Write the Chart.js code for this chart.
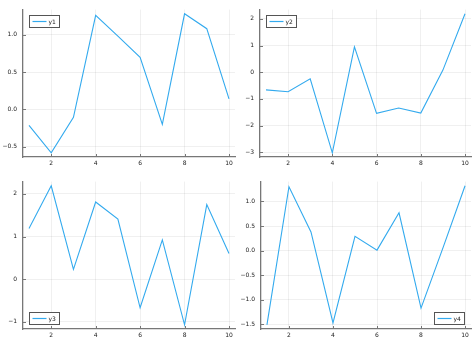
<!DOCTYPE html>
<html>
<head>
<meta charset="utf-8">
<script src="https://cdn.jsdelivr.net/npm/chart.js@4/dist/chart.umd.min.js"></script>
<style>
  html, body { margin: 0; padding: 0; background: #fff; }
  #wrap { position: relative; width: 474px; height: 345px; }
  .cell { position: absolute; }
</style>
</head>
<body>
<div id="wrap">
  <div class="cell" style="left:0;top:0;width:237px;height:172px"><canvas id="c1" width="237" height="172"></canvas></div>
  <div class="cell" style="left:237px;top:0;width:237px;height:172px"><canvas id="c2" width="237" height="172"></canvas></div>
  <div class="cell" style="left:0;top:172px;width:237px;height:173px"><canvas id="c3" width="237" height="173"></canvas></div>
  <div class="cell" style="left:237px;top:172px;width:237px;height:173px"><canvas id="c4" width="237" height="173"></canvas></div>
</div>
<script>
// ---- data ----
const xValues = [1, 2, 3, 4, 5, 6, 7, 8, 9, 10];
const xTicks = [2, 4, 6, 8, 10];
const seriesNames = ['y1', 'y2', 'y3', 'y4'];
const y1 = [-0.215, -0.582, -0.107, 1.259, 0.98, 0.698, -0.20, 1.28, 1.08, 0.14];
const y2 = [-0.66, -0.73, -0.25, -3.02, 0.95, -1.54, -1.34, -1.53, 0.08, 2.19];
const y3 = [1.19, 2.19, 0.23, 1.81, 1.41, -0.67, 0.92, -1.07, 1.75, 0.60];
const y4 = [-1.51, 1.30, 0.38, -1.47, 0.29, 0.01, 0.77, -1.17, 0.06, 1.32];
const yTicks1 = [-0.5, 0, 0.5, 1.0];
const yTicks2 = [-3, -2, -1, 0, 1, 2];
const yTicks3 = [-1, 0, 1, 2];
const yTicks4 = [-1.5, -1.0, -0.5, 0, 0.5, 1.0];

const LINE = '#33aaee';
const AXIS = '#777';
const GRID = 'rgba(0,0,0,0.06)';
const TXT = '#222';
const FONT = 'DejaVu Sans';

function fmt(v, dec) {
  const s = v.toFixed(dec);
  return s.startsWith('-') ? '\u2212' + s.slice(1) : s;
}
function padRange(arr, frac) {
  const mn = Math.min(...arr), mx = Math.max(...arr);
  const p = (mx - mn) * frac;
  return [mn - p, mx + p];
}

const innerTicks = {
  id: 'innerTicks',
  afterDatasetsDraw(chart) {
    const ctx = chart.ctx, a = chart.chartArea;
    const xs = chart.scales.x, ys = chart.scales.y;
    ctx.save();
    ctx.strokeStyle = AXIS; ctx.lineWidth = 1;
    ctx.beginPath();
    xs.ticks.forEach(t => { const px = Math.round(xs.getPixelForValue(t.value)) + 0.5; ctx.moveTo(px, a.bottom); ctx.lineTo(px, a.bottom - 3); });
    ys.ticks.forEach(t => { const py = Math.round(ys.getPixelForValue(t.value)) + 0.5; ctx.moveTo(a.left, py); ctx.lineTo(a.left + 3, py); });
    ctx.stroke();
    ctx.restore();
  }
};

const boxLegend = {
  id: 'boxLegend',
  afterDraw(chart, args, opts) {
    const ctx = chart.ctx, a = chart.chartArea;
    const label = chart.data.datasets[0].label;
    ctx.save();
    ctx.font = '6px "' + FONT + '"';
    const tw = ctx.measureText(label).width;
    const w = Math.round(20 + tw + 3), h = 12;
    let x, y;
    if (opts.pos === 'tl') { x = a.left + 6; y = a.top + 5; }
    else if (opts.pos === 'bl') { x = a.left + 6; y = a.bottom - 5 - h; }
    else { x = a.right - 7 - w; y = a.bottom - 5 - h; }
    x = Math.round(x) + 0.5; y = Math.round(y) + 0.5;
    ctx.fillStyle = '#fff';
    ctx.fillRect(x, y, w, h);
    ctx.strokeStyle = '#555'; ctx.lineWidth = 1;
    ctx.strokeRect(x, y, w, h);
    ctx.strokeStyle = LINE; ctx.lineWidth = 1.2;
    ctx.beginPath(); ctx.moveTo(x + 3, y + h / 2); ctx.lineTo(x + 17, y + h / 2); ctx.stroke();
    ctx.fillStyle = TXT; ctx.textBaseline = 'middle'; ctx.textAlign = 'left';
    ctx.fillText(label, x + 19, y + h / 2 + 0.5);
    ctx.restore();
  }
};

function makeChart(id, name, ys, yTicks, dec, legendPos, geom) {
  const [ymin, ymax] = padRange(ys, 0.03);
  const [xmin, xmax] = padRange(xValues, 0.03);
  new Chart(document.getElementById(id), {
    type: 'line',
    data: {
      datasets: [{
        label: name,
        data: xValues.map((x, i) => ({ x: x, y: ys[i] })),
        borderColor: LINE,
        borderWidth: 1.1,
        pointRadius: 0,
        tension: 0,
        fill: false
      }]
    },
    options: {
      responsive: false,
      animation: false,
      layout: { padding: { top: geom.top, right: geom.right, left: 0, bottom: 0 } },
      plugins: { legend: { display: false }, tooltip: { enabled: false }, boxLegend: { pos: legendPos } },
      scales: {
        x: {
          type: 'linear', min: xmin, max: xmax,
          afterBuildTicks: ax => { ax.ticks = xTicks.map(v => ({ value: v })); },
          afterFit: ax => { ax.height = geom.xh; },
          grid: { color: GRID, drawTicks: false, lineWidth: 1 },
          border: { display: true, color: AXIS, width: 1.3 },
          ticks: { color: TXT, font: { family: FONT, size: 6 }, padding: 3, maxRotation: 0, autoSkip: false, callback: v => fmt(v, 0) }
        },
        y: {
          type: 'linear', min: ymin, max: ymax,
          afterBuildTicks: ax => { ax.ticks = yTicks.map(v => ({ value: v })); },
          afterFit: ax => { ax.width = geom.left; },
          grid: { color: GRID, drawTicks: false, lineWidth: 1 },
          border: { display: true, color: AXIS, width: 1.3 },
          ticks: { color: TXT, font: { family: FONT, size: 6 }, padding: 6, autoSkip: false, callback: v => fmt(v, dec) }
        }
      }
    },
    plugins: [innerTicks, boxLegend]
  });
}

makeChart('c1', seriesNames[0], y1, yTicks1, 1, 'tl', { top: 4, right: 2, left: 23, xh: 15 });
makeChart('c2', seriesNames[1], y2, yTicks2, 0, 'tl', { top: 4, right: 3, left: 23, xh: 15 });
makeChart('c3', seriesNames[2], y3, yTicks3, 0, 'bl', { top: 4, right: 2, left: 23, xh: 16 });
makeChart('c4', seriesNames[3], y4, yTicks4, 1, 'br', { top: 4, right: 3, left: 24, xh: 16 });
</script>
</body>
</html>
